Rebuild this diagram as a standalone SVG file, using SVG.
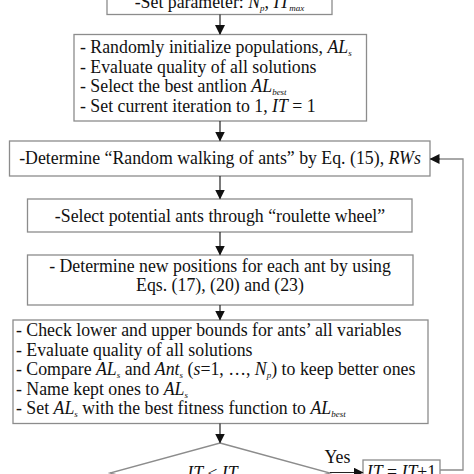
<svg xmlns="http://www.w3.org/2000/svg" width="474" height="474" viewBox="0 0 474 474">
<defs>
<style>
.box{fill:#fff;stroke:#8c8c8c;stroke-width:1.3}
.t{font-family:"Liberation Serif","Times New Roman",serif;font-size:17.8px;fill:#111}
.i{font-style:italic}
.s{font-size:9px;font-style:italic}
.c{stroke:#222;stroke-width:1.2;fill:none}
.g{stroke:#8c8c8c;stroke-width:1.3;fill:none}
</style>
<marker id="ah" markerWidth="10" markerHeight="10" refX="9" refY="5" orient="auto" markerUnits="userSpaceOnUse">
<path d="M0,0 L10,5 L0,10 Z" fill="#111"/>
</marker>
</defs>
<rect width="474" height="474" fill="#fff"/>
<g id="n1">
<rect class="box" x="107" y="-20" width="225" height="34.5"/>
<text class="t" x="219.5" y="7.5" text-anchor="middle">-Set parameter: <tspan class="i">N</tspan><tspan class="s" dy="3">p</tspan><tspan dy="-3">, </tspan><tspan class="i">IT</tspan><tspan class="s" dy="3">max</tspan></text>
</g>
<g id="n2">
<rect class="box" x="74" y="34.5" width="292.5" height="86.5"/>
<text class="t" x="80" y="53">- Randomly initialize populations, <tspan class="i">AL</tspan><tspan class="s" dy="3">s</tspan></text>
<text class="t" x="80" y="72.5">- Evaluate quality of all solutions</text>
<text class="t" x="80" y="92">- Select the best antlion <tspan class="i">AL</tspan><tspan class="s" dy="3">best</tspan></text>
<text class="t" x="80" y="111.5">- Set current iteration to 1, <tspan class="i">IT</tspan> = 1</text>
</g>
<g id="n3">
<rect class="box" x="9.5" y="141" width="420.5" height="35"/>
<text class="t" x="220" y="163.5" text-anchor="middle">-Determine “Random walking of ants” by Eq. (15), <tspan class="i">RWs</tspan></text>
</g>
<g id="n4">
<rect class="box" x="27.5" y="199" width="384.5" height="33"/>
<text class="t" x="220" y="221.5" text-anchor="middle">-Select potential ants through “roulette wheel”</text>
</g>
<g id="n5">
<rect class="box" x="27.5" y="255" width="385.5" height="50"/>
<text class="t" x="220" y="272" text-anchor="middle">- Determine new positions for each ant by using</text>
<text class="t" x="220" y="291" text-anchor="middle">Eqs. (17), (20) and (23)</text>
</g>
<g id="n6">
<rect class="box" x="13" y="320" width="415" height="103.5"/>
<text class="t" x="16" y="336">- Check lower and upper bounds for ants’ all variables</text>
<text class="t" x="16" y="355.5">- Evaluate quality of all solutions</text>
<text class="t" x="16" y="375">- Compare  <tspan class="i">AL</tspan><tspan class="s" dy="3">s</tspan><tspan dy="-3"> and </tspan><tspan class="i">Ant</tspan><tspan class="s" dy="3">s</tspan><tspan dy="-3"> (</tspan><tspan class="i">s</tspan>=1, …, <tspan class="i">N</tspan><tspan class="s" dy="3">p</tspan><tspan dy="-3">) to keep better ones</tspan></text>
<text class="t" x="16" y="394.5">- Name kept ones to <tspan class="i">AL</tspan><tspan class="s" dy="3">s</tspan></text>
<text class="t" x="16" y="414">- Set <tspan class="i">AL</tspan><tspan class="s" dy="3">s</tspan><tspan dy="-3"> with the best fitness function to </tspan><tspan class="i">AL</tspan><tspan class="s" dy="3">best</tspan></text>
</g>
<g id="n7">
<polygon class="box" points="220,443 330,473 220,503 110,473"/>
<text class="t" x="220" y="479" text-anchor="middle"><tspan class="i">IT</tspan> ≤ <tspan class="i">IT</tspan><tspan class="s" dy="3">max</tspan></text>
</g>
<g id="n8">
<rect class="box" x="363" y="460" width="77" height="30"/>
<text class="t" x="401.5" y="478" text-anchor="middle"><tspan class="i">IT</tspan> = <tspan class="i">IT</tspan>+1</text>
</g>
<g id="connectors">
<line class="c" x1="220" y1="14.5" x2="220" y2="34" marker-end="url(#ah)"/>
<line class="c" x1="220" y1="121" x2="220" y2="140.5" marker-end="url(#ah)"/>
<line class="c" x1="220" y1="176" x2="220" y2="198.5" marker-end="url(#ah)"/>
<line class="c" x1="220" y1="232" x2="220" y2="254.5" marker-end="url(#ah)"/>
<line class="c" x1="220" y1="305" x2="220" y2="319.5" marker-end="url(#ah)"/>
<line class="c" x1="220" y1="423.5" x2="220" y2="442.5" marker-end="url(#ah)"/>
<line class="c" x1="330" y1="472.5" x2="362.5" y2="472.5" marker-end="url(#ah)"/>
<polyline class="g" points="440,470 463,470 463,159 440,159"/>
<line class="c" x1="440" y1="159" x2="430.5" y2="159" marker-end="url(#ah)"/>
<text class="t" x="337.5" y="463" text-anchor="middle">Yes</text>
</g>
</svg>
